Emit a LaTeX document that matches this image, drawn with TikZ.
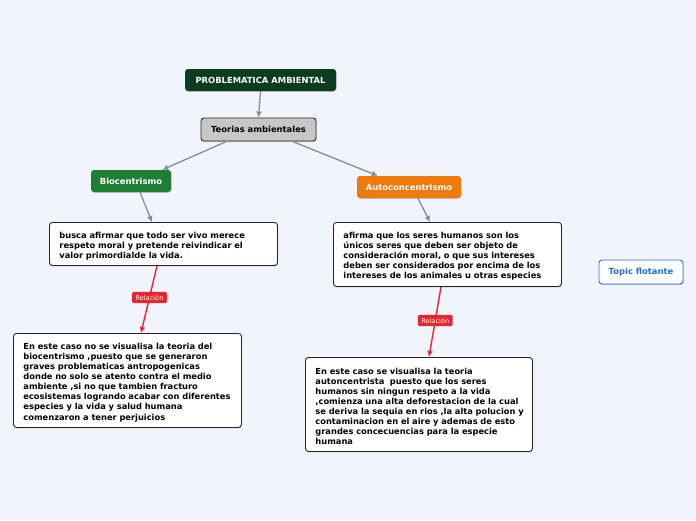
\documentclass[tikz,border=0pt]{standalone}
\usepackage{fontspec}
\setmainfont{DejaVu Sans}
\usetikzlibrary{shadows,arrows.meta}
\definecolor{bg}{HTML}{F2F4FD}
\definecolor{dg}{HTML}{0B3D1C}
\definecolor{gg}{HTML}{1E7F34}
\definecolor{oo}{HTML}{EE7A0E}
\definecolor{rr}{HTML}{E8262F}
\definecolor{bb}{HTML}{1B74D4}
\definecolor{ln}{HTML}{8A8D92}
\begin{document}
\begin{tikzpicture}[x=1pt,y=-1pt,
  box/.style={draw=black!85,line width=0.9pt,rounded corners=3pt,fill=white,anchor=north west,inner sep=0pt,
    font=\bfseries\fontsize{8.3}{10.1}\selectfont,align=left,drop shadow={shadow xshift=0.6pt,shadow yshift=-0.8pt,opacity=0.4}},
  topic/.style={rounded corners=3pt,anchor=center,inner sep=0pt,font=\bfseries\fontsize{8.4}{10}\selectfont,drop shadow={shadow xshift=0.6pt,shadow yshift=-0.8pt,opacity=0.4}},
  rel/.style={fill=rr,text=white,rounded corners=1.5pt,font=\fontsize{6.6}{8}\selectfont,inner xsep=3.5pt,inner ysep=3pt},
  conn/.style={draw=ln,line width=1.3pt,-{Latex[length=6pt,width=6pt]}},
  rconn/.style={draw=rr,line width=1.4pt,-{Latex[length=6pt,width=6pt]}}]
\fill[bg] (0,0) rectangle (696,520);
\node[topic,fill=dg,text=white,minimum width=151,minimum height=22] (p) at (260.5,80) {PROBLEMATICA AMBIENTAL};
\node[topic,fill=black!22,draw=black!85,line width=0.9pt,minimum width=115,minimum height=23] (t) at (258.5,129.5) {Teorias ambientales};
\node[topic,fill=gg,text=white,minimum width=80,minimum height=22] (b) at (131,181) {Biocentrismo};
\node[topic,fill=oo,text=white,minimum width=104,minimum height=22] (a) at (409,187) {Autoconcentrismo};
\node[topic,fill=white,draw=bb,line width=0.9pt,text=bb,minimum width=84,minimum height=24] (f) at (641,272) {Topic flotante};
\node[box,minimum width=228,minimum height=43,text width=228] (b1) at (49,222) {\hspace*{10pt}\parbox[t]{215pt}{\vspace{4pt}busca afirmar que todo ser vivo merece\\respeto moral y pretende reivindicar el\\valor primordialde la vida.}};
\node[box,minimum width=228,minimum height=64,text width=228] (a1) at (333,222) {\hspace*{10pt}\parbox[t]{215pt}{\vspace{4pt}afirma que los seres humanos son los\\únicos seres que deben ser objeto de\\consideración moral, o que sus intereses\\deben ser considerados por encima de los\\intereses de los animales u otras especies}};
\node[box,minimum width=228,minimum height=94,text width=228] (b2) at (13,333) {\hspace*{10pt}\parbox[t]{215pt}{\vspace{4pt}En este caso no se visualisa la teoria del\\biocentrismo ,puesto que se generaron\\graves problematicas antropogenicas\\donde no solo se atento contra el medio\\ambiente ,si no que tambien fracturo\\ecosistemas logrando acabar con diferentes\\especies y la vida y salud humana\\comenzaron a tener perjuicios}};
\node[box,minimum width=227,minimum height=94,text width=227] (a2) at (305,357) {\hspace*{10pt}\parbox[t]{215pt}{\vspace{4pt}En este caso se visualisa la teoria\\autoncentrista \ puesto que los seres\\humanos sin ningun respeto a la vida\\,comienza una alta deforestacion de la cual\\se deriva la sequia en rios ,la alta polucion y\\contaminacion en el aire y ademas de esto\\grandes concecuencias para la especie\\humana}};
\draw[conn] (p.south) -- (t.north);
\draw[conn] ([xshift=-32pt]t.south) -- ([xshift=-9pt]b.north east);
\draw[conn] ([xshift=34pt]t.south) -- ([xshift=21pt]a.north west);
\draw[conn] ([xshift=9pt]b.south) -- ([xshift=103pt]b1.north west);
\draw[conn] ([xshift=9pt]a.south) -- ([xshift=97pt]a1.north west);
\draw[rconn] ([xshift=108pt]b1.south west) -- node[rel,pos=0.47]{Relación} ([xshift=128pt]b2.north west);
\draw[rconn] ([xshift=108pt]a1.south west) -- node[rel,pos=0.48]{Relación} ([xshift=124pt]a2.north west);
\end{tikzpicture}
\end{document}
